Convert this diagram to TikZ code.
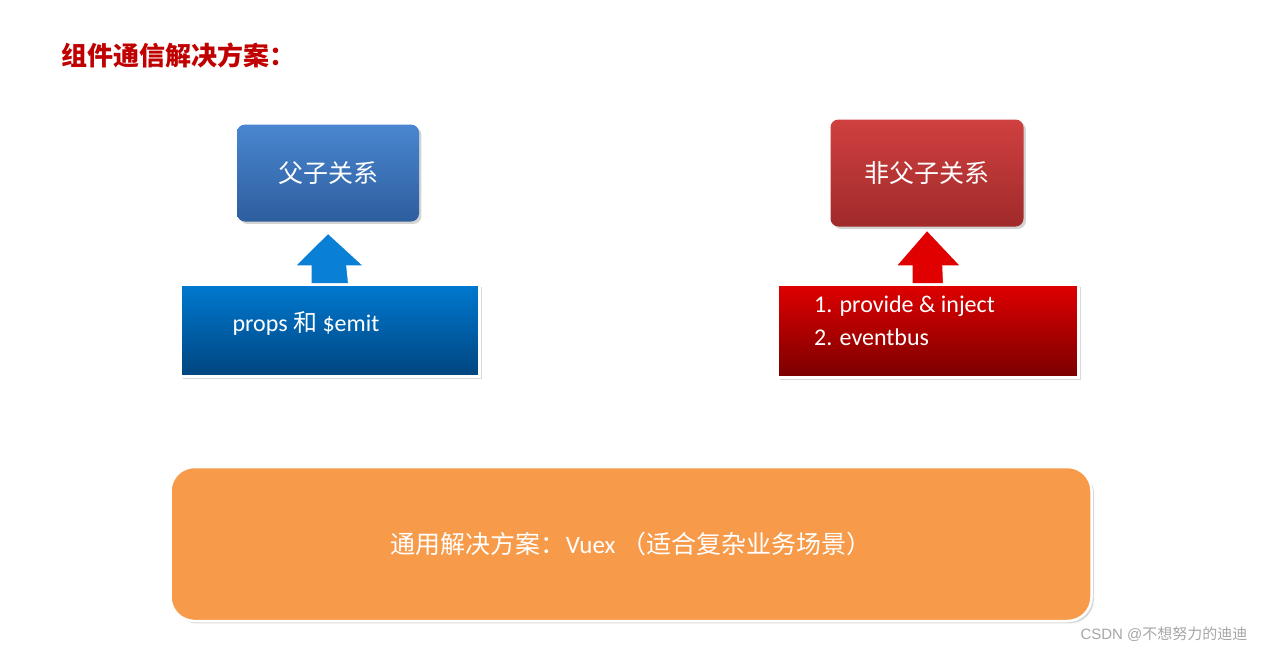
\documentclass[tikz,border=0pt]{standalone}
\usepackage{fontspec}
\setmainfont{Carlito}
\newfontfamily\cjk{Noto Sans CJK SC}
\usetikzlibrary{positioning,shadows}
\definecolor{titlered}{HTML}{C00000}
\definecolor{bluetop}{HTML}{4A86D0}
\definecolor{bluebot}{HTML}{2D5E9E}
\definecolor{redtop}{HTML}{D04040}
\definecolor{redbot}{HTML}{A02A2A}
\definecolor{bbasetop}{HTML}{0079D0}
\definecolor{bbasebot}{HTML}{00457F}
\definecolor{barrow}{HTML}{0A7FD6}
\definecolor{rbasetop}{HTML}{E00000}
\definecolor{rbasebot}{HTML}{7A0000}
\definecolor{orangefill}{HTML}{F79A4A}
\tikzset{
  topbox/.style 2 args={rounded corners=8pt, top color=#1, bottom color=#2,
    minimum width=182pt, minimum height=97pt, text=white, font=\cjk\fontsize{25}{30}\selectfont,
    drop shadow={opacity=0.35}},
  basebox/.style 2 args={draw=white, line width=2.5pt, top color=#1, bottom color=#2,
    minimum width=300pt, minimum height=92pt, text=white, font=\fontsize{24}{30}\selectfont,
    drop shadow={opacity=0.3}},
  uparrow/.style={draw=white, line width=1.5pt}
}
\begin{document}
\begin{tikzpicture}[x=1pt,y=-1pt]
\useasboundingbox (0,0) rectangle (1264,653);
\node[anchor=west, text=titlered, font=\cjk\bfseries\fontsize{26}{30}\selectfont] (title) at (58,55) {组件通信解决方案：};
% left side
\node[topbox={bluetop}{bluebot}] (pc) at (328,173) {父子关系};
\node[basebox={bbasetop}{bbasebot}, anchor=north west, minimum width=299pt] (pcbase) at (179,283) {};
\node[anchor=west, text=white, font=\fontsize{24}{30}\selectfont] (pctext) at (229,323) {props {\cjk 和} \$emit};
\fill[uparrow, fill=barrow] ([xshift=-19pt]pcbase.north) -- ++(0,-17) -- ++(-16,0) -- (328,233) -- (364,266) -- ++(-17,0) -- ([xshift=19pt]pcbase.north);
% right side
\node[topbox={redtop}{redbot}, minimum width=193pt, minimum height=107pt] (npc) at (927,173) {非父子关系};
\node[basebox={rbasetop}{rbasebot}, anchor=north west, minimum width=301pt, minimum height=93pt] (npcbase) at (776,283) {};
\node[anchor=north west, text=white, font=\fontsize{24}{30}\selectfont, align=left, inner sep=0pt] (npctext) at (814,296) {1. provide \& inject\\[3pt]2. eventbus};
\fill[uparrow, fill=rbasetop] ([xshift=-16pt]npcbase.north) -- ++(0,-17) -- ++(-16,0) -- (927,230) -- (961,266) -- ++(-18,0) -- ([xshift=16pt]npcbase.north);
% bottom
\node[draw=white, line width=2.5pt, fill=orangefill, rounded corners=24pt, minimum width=921pt, minimum height=154pt,
  drop shadow={opacity=0.3}, text=white, font=\cjk\fontsize{25}{30}\selectfont] (vuex) at (631,544)
  {通用解决方案：{\fontspec{Carlito}Vuex} （适合复杂业务场景）};
\node[anchor=east, text=gray!70, font=\cjk\fontsize{15}{18}\selectfont] (mark) at (1251,634) {{\fontspec{Liberation Sans}CSDN @}不想努力的迪迪};
\end{tikzpicture}
\end{document}
